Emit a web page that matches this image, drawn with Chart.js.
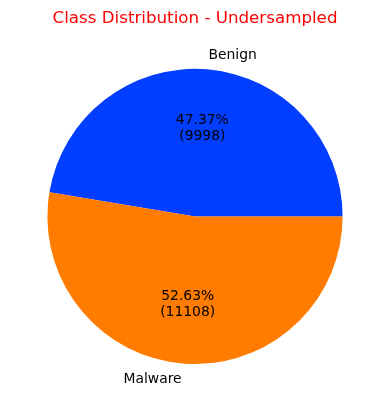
<!DOCTYPE html>
<html>
<head>
<meta charset="utf-8">
<script src="https://cdn.jsdelivr.net/npm/chart.js@4.4.0/dist/chart.umd.min.js"></script>
<style>
	html, body { margin: 0; padding: 0; background: #fff; }
	#wrap { width: 389px; height: 411px; }
</style>
</head>
<body>
<div id="wrap"><canvas id="class-pie-chart" width="389" height="411"></canvas></div>
<script>
var categories = ['Benign', 'Malware'];
var counts = [9998, 11108];
var sliceColors = ['#023eff', '#ff7c00'];

var sliceLabels = {
	id: 'sliceLabels',
	afterDatasetsDraw: function (chart) {
		var ctx = chart.ctx;
		var meta = chart.getDatasetMeta(0);
		var total = counts.reduce(function (a, b) { return a + b; }, 0);
		ctx.save();
		ctx.fillStyle = '#000';
		ctx.textBaseline = 'middle';
		meta.data.forEach(function (arc, i) {
			var mid = (arc.startAngle + arc.endAngle) / 2;
			var r = arc.outerRadius;
			var cx = Math.cos(mid), cy = Math.sin(mid);

			ctx.font = '13.9px "DejaVu Sans"';
			ctx.textAlign = cx > 0 ? 'left' : 'right';
			ctx.fillText(categories[i], arc.x + cx * r * 1.1, arc.y + cy * r * 1.1 + 1);

			var px = arc.x + cx * r * 0.6;
			var py = arc.y + cy * r * 0.6;
			var pct = (counts[i] / total * 100).toFixed(2) + '%';
			ctx.textAlign = 'center';
			ctx.fillText(pct, px, py - 8);
			ctx.fillText('(' + counts[i] + ')', px, py + 8);
		});
		ctx.restore();
	}
};

chartBuilder();

function chartBuilder() {
	var total = counts.reduce(function (a, b) { return a + b; }, 0);
	// matplotlib starts at 3 o'clock and runs counter-clockwise, chart.js runs clockwise
	var startRot = 90 - counts[0] / total * 360;
	chartGenerator('class-pie-chart', chartPieSetting(categories, counts, startRot));
}

function chartGenerator(id, settings) {
	var ctx = document.getElementById(id);
	return new Chart(ctx, settings);
}

function chartPieSetting(labels, data, rot) {
	return {
		type: 'pie',
		data: {
			labels: labels,
			datasets: [{
				data: data,
				backgroundColor: sliceColors,
				borderWidth: 0
			}]
		},
		options: {
			responsive: false,
			animation: false,
			rotation: rot,
			layout: { padding: { top: 0, bottom: 47, left: 47, right: 46 } },
			plugins: {
				legend: { display: false },
				tooltip: { enabled: false },
				title: {
					display: true,
					text: 'Class Distribution - Undersampled',
					color: 'red',
					font: { family: 'DejaVu Sans', size: 16.7, weight: 'normal' },
					padding: { top: 9, bottom: 39.8 }
				}
			}
		},
		plugins: [sliceLabels]
	};
}
</script>
</body>
</html>
